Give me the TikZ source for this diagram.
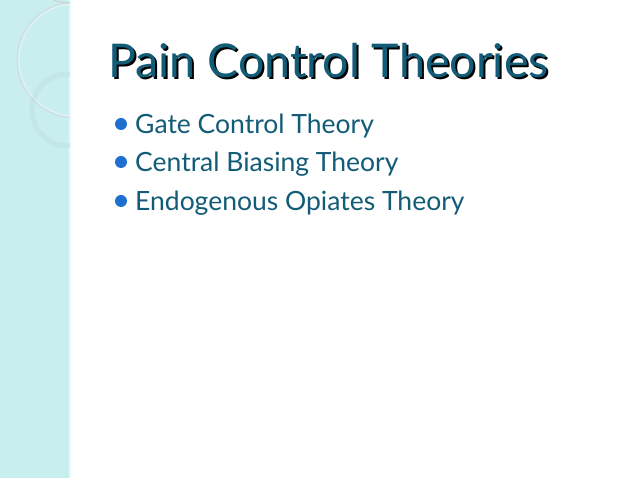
\documentclass[tikz,border=0pt]{standalone}
\usepackage{fontspec}
\setmainfont{Lato}
\definecolor{panel}{HTML}{C9EEF0}
\definecolor{tcol}{HTML}{135C78}
\definecolor{bcol}{HTML}{1E6FD0}
\begin{document}
\begin{tikzpicture}[x=1pt,y=-1pt,
  item/.style={anchor=base west,text=tcol,font=\fontsize{26.5}{30}\selectfont,inner sep=0},
  dot/.style={circle,fill=bcol,minimum size=12pt,inner sep=0}]
\useasboundingbox (0,0) rectangle (638,478);
\fill[white] (0,0) rectangle (638,478);
\fill[panel] (0,0) rectangle (70,478);
\draw[color=white!60!panel,line width=1.2] (70,0) -- (70,478);
\begin{scope}
\clip (0,0) rectangle (70,478);
\draw[white!70!gray,line width=1] (75,60) circle (58);
\draw[white!40!panel,line width=1] (75,60) circle (56);
\draw[panel!80!gray,opacity=0.35,line width=5] (68,110) circle (36);
\end{scope}
\draw[gray!40,line width=0.8] (70,3) arc[start angle=92,end angle=140,radius=58];
\node[anchor=base west,inner sep=0,text=black,font=\fontsize{46.5}{50}\selectfont] (ts) at (110,80) {Pain Control Theories};
\node[anchor=base west,inner sep=0,text=tcol,font=\fontsize{46.5}{50}\selectfont] (t) at (108,78) {Pain Control Theories};
\node[dot] (d1) at (121,124) {};
\node[item] (i1) at (135,134) {Gate Control Theory};
\node[dot] (d2) at (121,162) {};
\node[item] (i2) at (135,172) {Central Biasing Theory};
\node[dot] (d3) at (121,201) {};
\node[item] (i3) at (135,211) {Endogenous Opiates Theory};
\end{tikzpicture}
\end{document}
